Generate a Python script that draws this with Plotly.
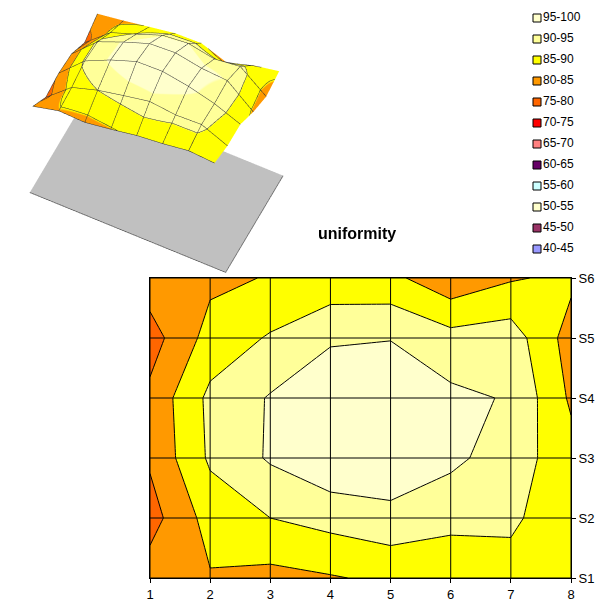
import plotly.graph_objects as go

columns = [1, 2, 3, 4, 5, 6, 7, 8]
series_pos = [1, 2, 3, 4, 5, 6]
series_names = ["S1", "S2", "S3", "S4", "S5", "S6"]
s1 = [82.4, 84.6, 83.5, 84.6, 86.0, 86.5, 87.5, 86.0]
s2 = [78.0, 87.0, 90.0, 91.8, 93.4, 91.4, 91.2, 85.5]
s3 = [80.7, 90.8, 95.6, 99.2, 98.9, 96.2, 92.4, 87.0]
s4 = [81.2, 91.2, 95.4, 99.0, 99.0, 96.1, 94.6, 84.2]
s5 = [77.8, 86.9, 90.5, 94.3, 94.8, 91.8, 92.6, 82.8]
s6 = [82.8, 83.9, 85.3, 86.6, 86.3, 81.3, 84.5, 86.1]
z_values = [s1, s2, s3, s4, s5, s6]

band_labels = ["95-100", "90-95", "85-90", "80-85", "75-80", "70-75",
               "65-70", "60-65", "55-60", "50-55", "45-50", "40-45"]
band_colors = ["#FFFFCC", "#FFFF99", "#FFFF00", "#FF9900", "#FF6600", "#FF0000",
               "#FF8080", "#660066", "#CCFFFF", "#FFFFCC", "#993366", "#9999FF"]
title_text = "uniformity"
z_floor = 40
z_top = 100

asc = band_colors[::-1]
n = len(asc)
scale = []
for i, c in enumerate(asc):
    scale += [[i / n, c], [(i + 1) / n, c]]

FONT = "Liberation Sans"
fig = go.Figure()

# 2-D contour chart
fig.add_trace(go.Contour(
    x=columns, y=series_pos, z=z_values, zmin=z_floor, zmax=z_top,
    colorscale=scale, showscale=False, autocontour=False,
    contours=dict(start=z_floor, end=z_top, size=5, coloring="fill"),
    line=dict(color="black", width=1, smoothing=0), hoverinfo="skip",
    xaxis="x", yaxis="y"))

grid_x, grid_y = [], []
for c in columns:
    grid_x += [c, c, None]
    grid_y += [series_pos[0], series_pos[-1], None]
for s in series_pos:
    grid_x += [columns[0], columns[-1], None]
    grid_y += [s, s, None]
fig.add_trace(go.Scatter(x=grid_x, y=grid_y, mode="lines", cliponaxis=False,
                         line=dict(color="black", width=1), hoverinfo="skip",
                         showlegend=False, xaxis="x", yaxis="y"))

# 3-D surface
fig.add_trace(go.Surface(
    x=columns, y=series_pos, z=z_values, cmin=z_floor, cmax=z_top,
    colorscale=scale, showscale=False, hoverinfo="skip",
    lighting=dict(ambient=1, diffuse=0, specular=0, roughness=1, fresnel=0),
    contours=dict(
        x=dict(show=True, start=columns[0], end=columns[-1], size=1, color="#333333", width=1),
        y=dict(show=True, start=series_pos[0], end=series_pos[-1], size=1, color="#333333", width=1),
        z=dict(show=True, start=80, end=95, size=5, color="#333333", width=1)),
    scene="scene"))

# Floor of the 3-D chart: slightly larger than the data grid, as in the picture
fx = [0.82, 8.59, 8.26, 0.49]
fy = [1.13, 0.675, 5.785, 6.24]
fig.add_trace(go.Mesh3d(
    x=fx, y=fy, z=[z_floor] * 4, i=[0, 0], j=[1, 2], k=[2, 3], color="#C0C0C0",
    flatshading=True, hoverinfo="skip",
    lighting=dict(ambient=1, diffuse=0, specular=0, roughness=1, fresnel=0),
    scene="scene"))
fig.add_trace(go.Scatter3d(
    x=fx[:3], y=fy[:3], z=[z_floor] * 3, mode="lines",
    line=dict(color="#555555", width=1.5),
    hoverinfo="skip", showlegend=False, scene="scene"))

# Legend
fig.add_trace(go.Scatter(
    x=[0] * len(band_labels), y=band_labels, mode="markers+text",
    text=band_labels, textposition="middle right",
    textfont=dict(family=FONT, size=12, color="black"),
    marker=dict(symbol="square", size=8, color=band_colors,
                line=dict(color="black", width=1)),
    cliponaxis=False, hoverinfo="skip", showlegend=False,
    xaxis="x2", yaxis="y2"))

W, H = 600, 600
def dx(a, b): return [a / W, b / W]
def dy(top, bottom): return [1 - bottom / H, 1 - top / H]

fig.update_layout(
    width=W, height=H, autosize=False, showlegend=False,
    margin=dict(l=0, r=0, t=0, b=0, autoexpand=False),
    paper_bgcolor="white", plot_bgcolor="white",
    font=dict(family=FONT, size=12, color="black"),
    title=dict(text=f"<b>{title_text}</b>", x=357 / W, y=1 - 233 / H,
               xanchor="center", yanchor="middle",
               font=dict(family=FONT, size=16, color="black")),
    xaxis=dict(domain=dx(150, 571), range=[columns[0], columns[-1]], tickmode="array",
               tickvals=columns, ticks="outside", ticklen=4, tickcolor="black",
               showgrid=False, zeroline=False, showline=True, linecolor="black",
               linewidth=1, mirror=True, tickfont=dict(family=FONT, size=13),
               anchor="y"),
    yaxis=dict(domain=dy(278, 578), range=[series_pos[0], series_pos[-1]], side="right",
               tickmode="array", tickvals=series_pos, ticktext=series_names,
               ticks="outside", ticklen=4, tickcolor="black", showgrid=False,
               zeroline=False, showline=True, linecolor="black", linewidth=1, mirror=True,
               tickfont=dict(family=FONT, size=13), anchor="x"),
    xaxis2=dict(domain=dx(526, 600), range=[-11, 63], visible=False, anchor="y2"),
    yaxis2=dict(domain=dy(7.5, 259.5), type="category", categoryorder="array",
                categoryarray=band_labels, range=[len(band_labels) - 0.5, -0.5],
                visible=False, anchor="x2"),
    scene=dict(
        domain=dict(x=dx(6, 306), y=dy(0, 302)),
        xaxis=dict(visible=False, range=[0, 9]),
        yaxis=dict(visible=False, range=[0, 7]),
        zaxis=dict(visible=False, range=[10, z_top]),
        aspectmode="manual", aspectratio=dict(x=1.73, y=1.34, z=1.80),
        camera=dict(eye=dict(x=0.315 * 3, y=-0.630 * 3, z=0.709 * 3),
                    up=dict(x=0, y=0, z=1), center=dict(x=0, y=0, z=0),
                    projection=dict(type="orthographic")),
        bgcolor="rgba(0,0,0,0)"),
)
fig.write_html("out.html", config=dict(displayModeBar=False),
               post_script="document.body.style.margin='0';document.body.style.overflow='hidden';")
